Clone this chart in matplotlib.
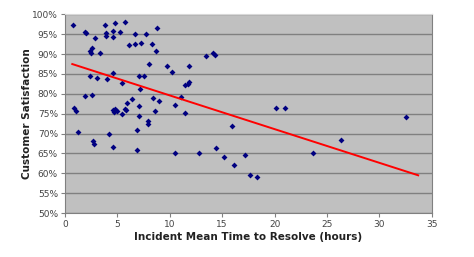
import matplotlib
matplotlib.use("Agg")
import matplotlib.pyplot as plt
import numpy as np
from matplotlib.ticker import FuncFormatter

# incident mean time to resolve (hours) vs customer satisfaction (%)
hours = [0.76, 1.88, 1.97, 2.9, 3.8, 3.9, 3.9, 4.55, 4.6, 4.8, 5.3, 5.7, 6.1,
         2.55, 2.4, 2.45, 3.34, 2.35, 3.05, 4.0, 4.6, 5.4, 1.9, 2.55,
         0.86, 1.05, 4.58, 4.75, 4.93, 4.7, 5.9, 5.7, 6.4, 5.4, 5.8,
         1.2, 4.2, 2.7, 2.77, 4.58,
         8.8, 6.7, 7.7, 6.7, 7.3, 8.3, 8.7, 8.0, 9.7, 10.2, 11.8,
         7.06, 7.56, 11.5, 11.7, 11.8, 7.15, 8.4, 9.0, 11.1, 7.06, 10.5,
         8.6, 11.5, 7.1, 7.95, 7.95, 6.9, 6.9, 10.5, 12.75,
         20.15, 21.0, 15.9, 14.4, 15.2, 16.1, 17.2, 17.7, 18.3, 23.7,
         13.45, 14.1, 14.3, 32.5, 26.3]
satisfaction = [97.3, 95.5, 95.2, 94.1, 97.3, 95.2, 94.6, 95.8, 94.4, 97.8, 95.5, 98.1, 92.4,
                91.5, 90.9, 90.2, 90.2, 84.5, 84.0, 83.7, 85.2, 82.7, 79.4, 79.7,
                76.4, 75.6, 76.0, 76.1, 75.6, 75.5, 77.6, 76.1, 78.8, 74.9, 75.9,
                70.3, 70.0, 68.1, 67.4, 66.5,
                96.5, 95.1, 95.1, 92.5, 92.8, 92.5, 90.9, 87.5, 87.0, 85.5, 87.1,
                84.4, 84.4, 82.3, 82.6, 82.9, 81.1, 78.9, 78.3, 79.3, 77.0, 77.2,
                75.6, 75.1, 74.4, 73.2, 72.5, 70.8, 65.8, 65.0, 65.2,
                76.5, 76.5, 71.8, 66.4, 64.1, 62.0, 64.7, 59.5, 59.0, 65.1,
                89.5, 90.4, 89.7, 74.3, 68.3]

# trendline end points
trend_hours = [0.7, 33.7]
trend_sat = [87.5, 59.5]

fig = plt.figure(figsize=(4.74, 2.57), dpi=100)
ax = fig.add_axes([0.137, 0.171, 0.774, 0.773])
ax.set_facecolor("#c0c0c0")

ax.scatter(hours, satisfaction, marker="D", s=9, color="#000080", zorder=3, linewidths=0)
ax.plot(trend_hours, trend_sat, color="#ff0000", linewidth=1.4, zorder=4)

ax.set_xlim(0, 35)
ax.set_ylim(50, 100)
ax.set_xticks(np.arange(0, 36, 5))
ax.set_yticks(np.arange(50, 101, 5))
ax.yaxis.set_major_formatter(FuncFormatter(lambda v, p: f"{int(v)}%"))
ax.grid(axis="y", color="#808080", linewidth=1.0)
ax.set_axisbelow(True)

for s in ax.spines.values():
    s.set_color("#808080")
    s.set_linewidth(0.8)
ax.spines["top"].set_color("#d8d8d8")

ax.tick_params(axis="both", labelsize=6.5, colors="#808080", labelcolor="#444444",
               length=3, width=0.8, direction="out", pad=2)

ax.set_xlabel("Incident Mean Time to Resolve (hours)", fontsize=7.5, fontweight="bold",
              color="#222222", labelpad=2)
ax.set_ylabel("Customer Satisfaction", fontsize=7.5, fontweight="bold",
              color="#222222", labelpad=0)

fig.savefig("out.png", dpi=100)
